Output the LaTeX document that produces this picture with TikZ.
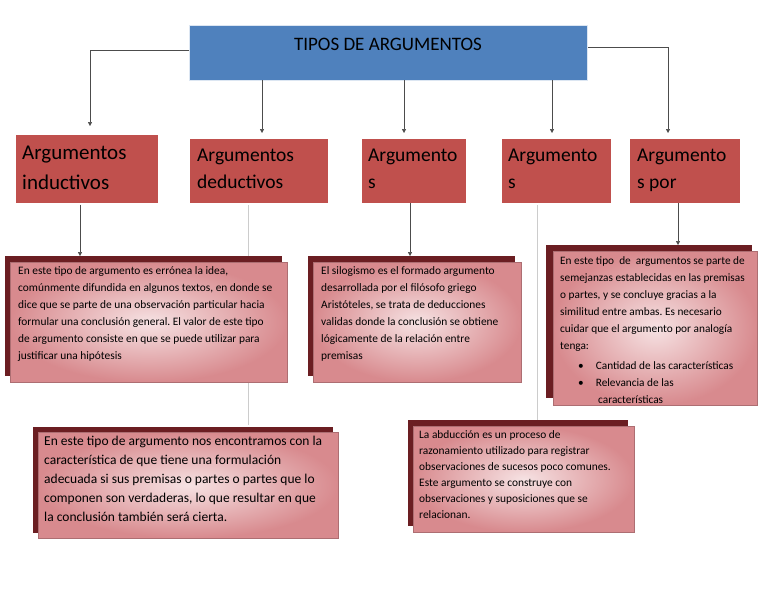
\documentclass[tikz,border=0pt]{standalone}
\usepackage{fontspec}
\setmainfont{Carlito}
\usetikzlibrary{arrows.meta}
\definecolor{topblue}{HTML}{4F81BD}
\definecolor{hdred}{HTML}{C0504D}
\definecolor{maroon}{HTML}{6B1E22}
\definecolor{pinkin}{HTML}{F6E2E3}
\definecolor{pinkout}{HTML}{D88A8E}
\begin{document}
\begin{tikzpicture}[x=1pt,y=-1pt,
  hdr/.style={fill=hdred,draw=white,line width=1.5pt,inner sep=0pt},
  shadowbox/.style={fill=maroon},
  frontbox/.style={inner color=pinkin,outer color=pinkout,draw=pinkout!80!black,line width=0.3pt},
  conn/.style={draw=black!70,line width=0.5pt},
  arr/.style={conn,-{Triangle[length=4pt,width=4pt]}},
  faint/.style={draw=black!20,line width=0.6pt},
  htxt/.style={anchor=north west,align=left,font=\fontsize{19.5}{27}\selectfont,inner sep=0pt},
  desc/.style={anchor=north west,align=left,font=\fontsize{11.4}{17}\selectfont,inner sep=0pt}]
\useasboundingbox (0,0) rectangle (768,594);
\fill[white] (0,0) rectangle (768,594);
% connectors behind
\draw[faint] (248,203) -- (248,425);
\draw[faint] (537,203) -- (537,422);
% top
\node[fill=topblue,draw=white!80!topblue,line width=1pt,minimum width=398pt,minimum height=55pt,anchor=north west] (top) at (189,25) {};
\node[font=\fontsize{19}{20}\selectfont,anchor=center] (toptxt) at (388,44) {TIPOS DE ARGUMENTOS};
% headers
\node[hdr,minimum width=144pt,minimum height=70pt,anchor=north west] (h1) at (14,133) {};
\node[htxt,font=\fontsize{21}{30}\selectfont] (t1) at (22,146) {Argumentos\\inductivos};
\node[hdr,minimum width=140pt,minimum height=66pt,anchor=north west] (h2) at (188,137) {};
\node[htxt] (t2) at (197,149) {Argumentos\\deductivos};
\node[hdr,minimum width=106pt,minimum height=66pt,anchor=north west] (h3) at (360,137) {};
\node[htxt] (t3) at (368,149) {Argumento\\s};
\node[hdr,minimum width=111pt,minimum height=66pt,anchor=north west] (h4) at (500,137) {};
\node[htxt] (t4) at (508,149) {Argumento\\s};
\node[hdr,minimum width=112pt,minimum height=66pt,anchor=north west] (h5) at (628,137) {};
\node[htxt] (t5) at (637,149) {Argumento\\s por};
% top connectors
\coordinate (l1) at (90,50);
\coordinate (r1) at (668,47);
\draw[arr] (top.west |- l1) -- (l1) -- (90,126);
\draw[arr] (262,80) -- (262,133);
\draw[arr] (404,80) -- (404,133);
\draw[arr] (552,80) -- (552,133);
\draw[arr] (top.east |- r1) -- (r1) -- (668,133);
% description boxes
\fill[shadowbox] (5,256) rectangle (282,376);
\node[frontbox,minimum width=277pt,minimum height=120pt,anchor=north west] (d1) at (10,262) {};
\node[desc] (d1t) at (18,266) {En este tipo de argumento es errónea la idea,\\comúnmente difundida en algunos textos, en donde se\\dice que se parte de una observación particular hacia\\formular una conclusión general.\ El valor de este tipo\\de argumento consiste en que se puede utilizar para\\justificar una hipótesis};
\fill[shadowbox] (308,256) rectangle (515,376);
\node[frontbox,minimum width=208pt,minimum height=120pt,anchor=north west] (d2) at (313,262) {};
\node[desc] (d2t) at (321,266) {El silogismo es el formado argumento\\desarrollada por el filósofo griego\\Aristóteles, se trata de deducciones\\validas donde la conclusión se obtiene\\lógicamente de la relación entre\\premisas};
\fill[shadowbox] (546,245) rectangle (752,398);
\node[frontbox,minimum width=204pt,minimum height=154pt,anchor=north west] (d3) at (553,251) {};
\begin{scope}
\clip (553,251) rectangle (757,403);
\node[desc,font=\fontsize{11.3}{17}\selectfont] (d3t) at (560,256) {En este tipo\ \ de\ \ argumentos se parte de\\semejanzas establecidas en las premisas\\o partes, y se concluye gracias a la\\similitud entre ambas.\ Es necesario\\cuidar que el argumento por analogía\\tenga:\\[3pt]\hspace*{18pt}•\hspace{12pt}Cantidad de las características\\\hspace*{18pt}•\hspace{12pt}Relevancia de las\\\hspace*{38pt}características};
\end{scope}
\fill[shadowbox] (33,427) rectangle (333,533);
\node[frontbox,minimum width=300pt,minimum height=106pt,anchor=north west] (d4) at (38,432) {};
\node[desc,font=\fontsize{13.5}{19}\selectfont] (d4t) at (44,436) {En este tipo de argumento nos encontramos con la\\característica de que tiene una formulación\\adecuada si sus premisas o partes o partes que lo\\componen son verdaderas, lo que resultar en que\\la conclusión también será cierta.};
\fill[shadowbox] (408,420) rectangle (628,526);
\node[frontbox,minimum width=221pt,minimum height=106pt,anchor=north west] (d5) at (413,426) {};
\node[desc,font=\fontsize{11.4}{16}\selectfont] (d5t) at (419,430) {La abducción es un proceso de\\razonamiento utilizado para registrar\\observaciones de sucesos poco comunes.\\Este argumento se construye con\\observaciones y suposiciones que se\\relacionan.};
% lower connectors
\draw[arr] (h1.south -| 80,0) -- (80,256);
\draw[arr] (410,203) -- (410,256);
\draw[arr] (678,203) -- (678,245);
\end{tikzpicture}
\end{document}
